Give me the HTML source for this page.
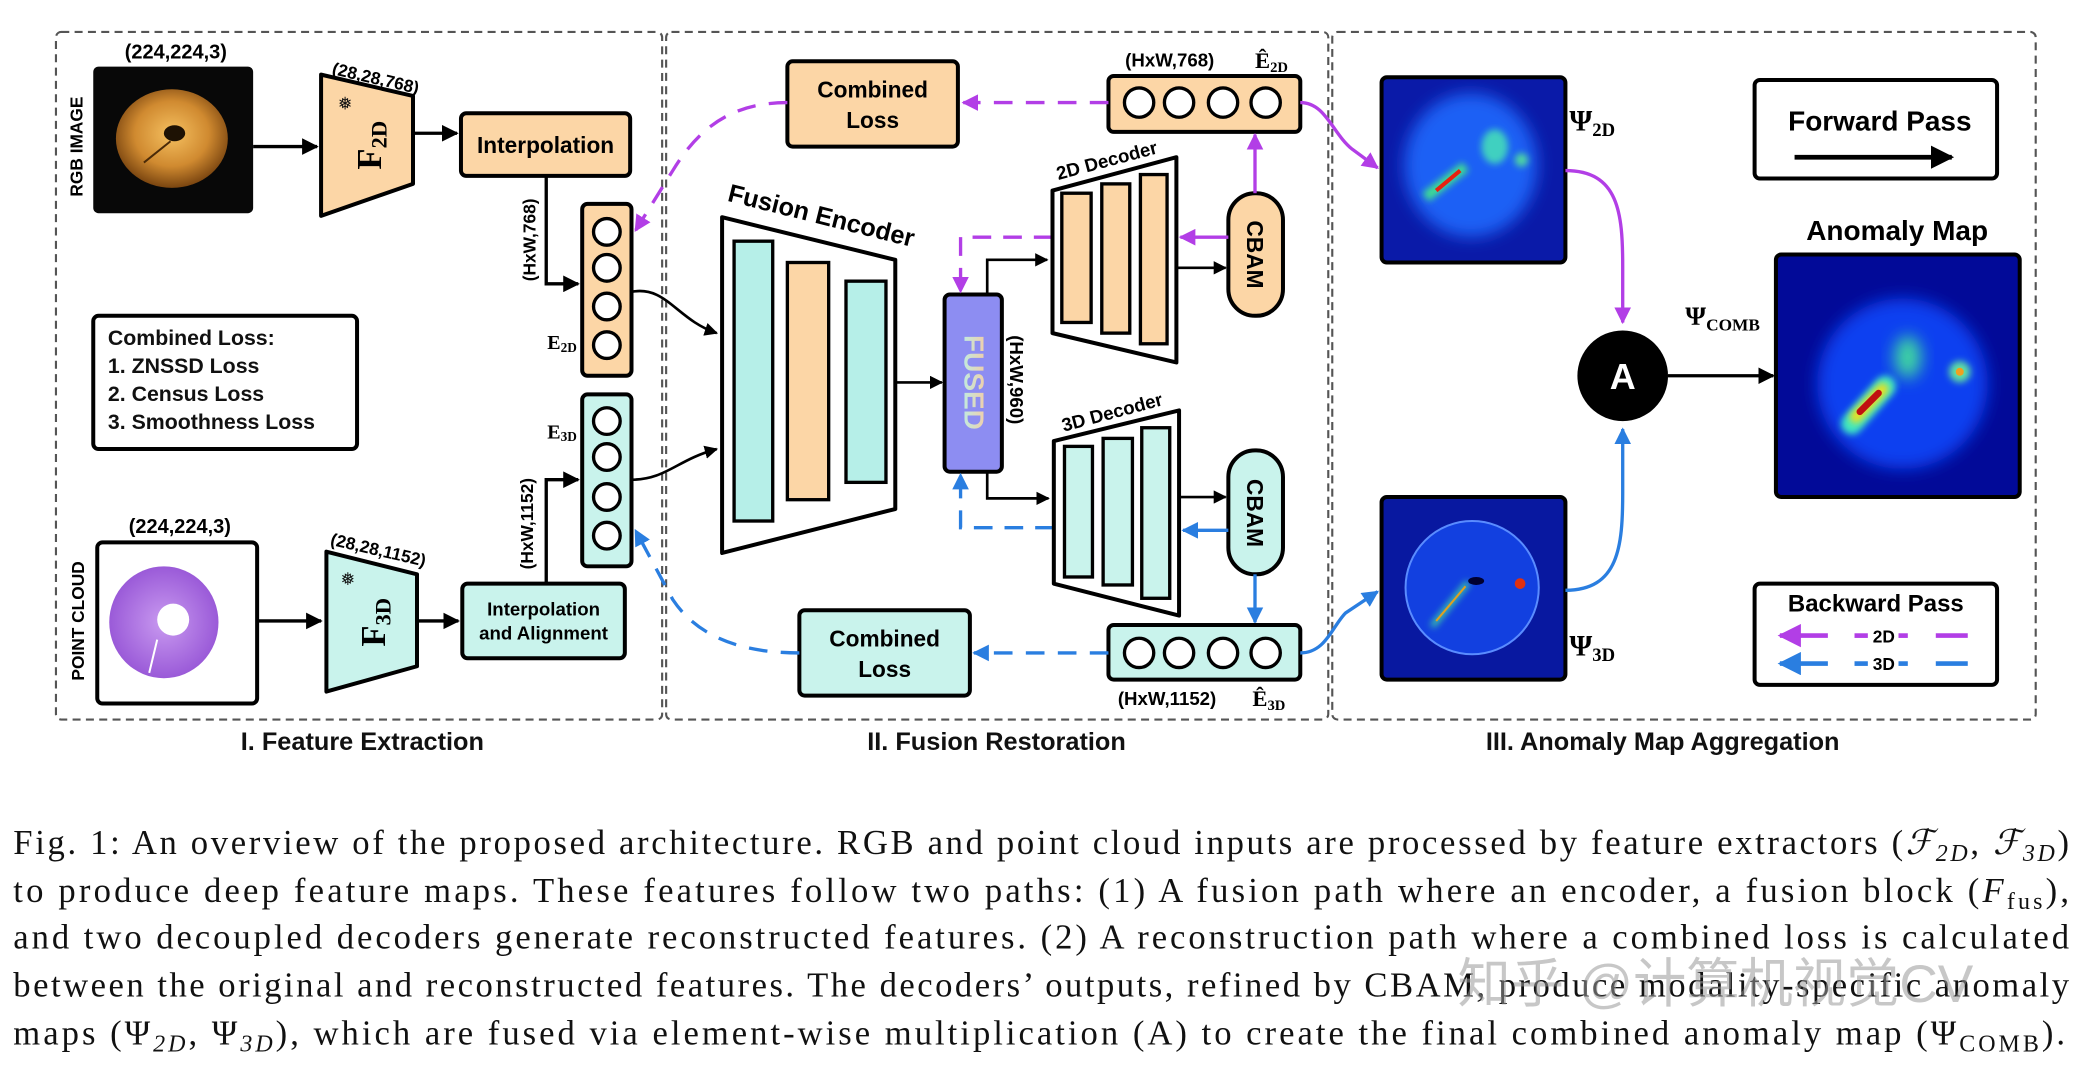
<!DOCTYPE html>
<html><head><meta charset="utf-8"><style>
html,body{margin:0;padding:0;background:#fff;}
svg{display:block;}
.b{font-family:"Liberation Sans",sans-serif;font-weight:bold;}
.s{font-family:"Liberation Serif",serif;font-weight:bold;}
.cap{font-family:"Liberation Serif",serif;font-size:26px;fill:#111;}
</style></head><body>
<svg width="2089" height="1066" viewBox="0 0 1568 800" preserveAspectRatio="none" xmlns="http://www.w3.org/2000/svg">
<defs>
<marker id="ak" viewBox="0 0 10 10" refX="9" refY="5" markerWidth="5" markerHeight="5" orient="auto"><path d="M0,0 L10,5 L0,10 z" fill="#000"/></marker>
<marker id="ap" viewBox="0 0 10 10" refX="9" refY="5" markerWidth="5" markerHeight="5" orient="auto"><path d="M0,0 L10,5 L0,10 z" fill="#b23ee6"/></marker>
<marker id="ab" viewBox="0 0 10 10" refX="9" refY="5" markerWidth="5" markerHeight="5" orient="auto"><path d="M0,0 L10,5 L0,10 z" fill="#2a7ee0"/></marker>
<radialGradient id="bag" cx="50%" cy="45%" r="55%"><stop offset="0" stop-color="#f5c060"/><stop offset="0.6" stop-color="#d08a30"/><stop offset="1" stop-color="#7a4510"/></radialGradient>
<radialGradient id="pc" cx="50%" cy="50%" r="50%"><stop offset="0" stop-color="#c99af0"/><stop offset="1" stop-color="#9a5ad8"/></radialGradient>
<linearGradient id="fz" x1="0" y1="0" x2="0" y2="1"><stop offset="0" stop-color="#f9c9a0"/><stop offset="1" stop-color="#b8f0ea"/></linearGradient>
<filter id="bl" x="-50%" y="-50%" width="200%" height="200%"><feGaussianBlur stdDeviation="6"/></filter>
<filter id="bl2" x="-50%" y="-50%" width="200%" height="200%"><feGaussianBlur stdDeviation="2.5"/></filter>
<clipPath id="c2d"><rect x="1037" y="58" width="138" height="139" rx="4"/></clipPath>
<clipPath id="c3d"><rect x="1037" y="373" width="138" height="137" rx="4"/></clipPath>
<clipPath id="cam"><rect x="1333" y="191" width="183" height="182" rx="4"/></clipPath>
</defs>

<g fill="none" stroke="#555" stroke-width="1.6" stroke-dasharray="6,4">
<rect x="42" y="24" width="455" height="516" rx="4"/>
<rect x="500" y="24" width="497" height="516" rx="4"/>
<rect x="1000" y="24" width="528" height="516" rx="4"/>
</g>
<g class="b" font-size="19" text-anchor="middle" fill="#111">
<text x="272" y="563">I. Feature Extraction</text>
<text x="748" y="563">II. Fusion Restoration</text>
<text x="1248" y="563">III. Anomaly Map Aggregation</text>
</g>

<!-- Panel I -->
<text class="b" x="132" y="44" font-size="15" text-anchor="middle">(224,224,3)</text>
<rect x="70" y="50" width="120" height="110" rx="4" fill="#080808"/>
<ellipse cx="129" cy="104" rx="42" ry="37" fill="url(#bag)"/>
<ellipse cx="131" cy="100" rx="8" ry="6" fill="#1e1204"/>
<path d="M108,122 L128,106" stroke="#4a2a08" stroke-width="1.5"/>
<text class="b" font-size="13" text-anchor="middle" transform="translate(62,110) rotate(-90)">RGB IMAGE</text>
<line x1="190" y1="110" x2="238" y2="110" stroke="#000" stroke-width="2.5" marker-end="url(#ak)"/>
<polygon points="241,56 310,72 310,138 241,162" fill="#fcd6a6" stroke="#000" stroke-width="3" stroke-linejoin="round"/>
<text x="259" y="82" font-size="13" text-anchor="middle" fill="#111">❅</text>
<text class="s" font-size="26" text-anchor="middle" transform="translate(286,109) rotate(-90)">F<tspan font-size="17" dy="4">2D</tspan></text>
<text class="b" font-size="13" text-anchor="middle" transform="translate(281,63) rotate(13)">(28,28,768)</text>
<line x1="310" y1="100" x2="343" y2="100" stroke="#000" stroke-width="2.5" marker-end="url(#ak)"/>
<rect x="346" y="85" width="127" height="47" rx="4" fill="#fcd6a6" stroke="#000" stroke-width="3"/>
<text class="b" x="409.5" y="115" font-size="17" text-anchor="middle">Interpolation</text>
<path d="M410,132 V213 H434" fill="none" stroke="#000" stroke-width="2.5" marker-end="url(#ak)"/>
<text class="b" font-size="13" text-anchor="middle" transform="translate(402,180) rotate(-90)">(HxW,768)</text>
<rect x="437" y="153" width="37" height="129" rx="4" fill="#fcd6a6" stroke="#000" stroke-width="3"/>
<g fill="#fff" stroke="#000" stroke-width="2.5">
<circle cx="455.5" cy="174" r="10"/><circle cx="455.5" cy="201" r="10"/><circle cx="455.5" cy="230" r="10"/><circle cx="455.5" cy="259" r="10"/>
</g>
<text class="s" x="433" y="262" font-size="15" text-anchor="end">E<tspan font-size="10" dy="2">2D</tspan></text>
<rect x="437" y="296" width="37" height="129" rx="4" fill="#c9f3ec" stroke="#000" stroke-width="3"/>
<g fill="#fff" stroke="#000" stroke-width="2.5">
<circle cx="455.5" cy="316" r="10"/><circle cx="455.5" cy="343" r="10"/><circle cx="455.5" cy="373" r="10"/><circle cx="455.5" cy="402" r="10"/>
</g>
<text class="s" x="433" y="329" font-size="15" text-anchor="end">E<tspan font-size="10" dy="2">3D</tspan></text>
<rect x="70" y="237" width="198" height="100" rx="4" fill="#fff" stroke="#000" stroke-width="3"/>
<g class="b" font-size="16" fill="#111">
<text x="81" y="259">Combined Loss:</text>
<text x="81" y="280">1. ZNSSD Loss</text>
<text x="81" y="301">2. Census Loss</text>
<text x="81" y="322">3. Smoothness Loss</text>
</g>
<text class="b" x="135" y="400" font-size="15" text-anchor="middle">(224,224,3)</text>
<rect x="73" y="407" width="120" height="121" rx="4" fill="#fff" stroke="#000" stroke-width="3"/>
<ellipse cx="123" cy="467" rx="41" ry="42" fill="url(#pc)"/>
<circle cx="130" cy="465" r="12" fill="#fff"/>
<path d="M118,480 L112,505" stroke="#fff" stroke-width="1.5"/>
<text class="b" font-size="13" text-anchor="middle" transform="translate(63,466) rotate(-90)">POINT CLOUD</text>
<line x1="193" y1="466" x2="241" y2="466" stroke="#000" stroke-width="2.5" marker-end="url(#ak)"/>
<polygon points="245,414 313,431 313,500 245,519" fill="#c9f3ec" stroke="#000" stroke-width="3" stroke-linejoin="round"/>
<text x="261" y="439" font-size="13" text-anchor="middle" fill="#111">❅</text>
<text class="s" font-size="26" text-anchor="middle" transform="translate(289,467) rotate(-90)">F<tspan font-size="17" dy="4">3D</tspan></text>
<text class="b" font-size="13" text-anchor="middle" transform="translate(283,417) rotate(13)">(28,28,1152)</text>
<line x1="313" y1="466" x2="344" y2="466" stroke="#000" stroke-width="2.5" marker-end="url(#ak)"/>
<rect x="347" y="438" width="122" height="56" rx="4" fill="#c9f3ec" stroke="#000" stroke-width="3"/>
<text class="b" x="408" y="462" font-size="14" text-anchor="middle">Interpolation</text>
<text class="b" x="408" y="480" font-size="14" text-anchor="middle">and Alignment</text>
<path d="M410,438 V360 H434" fill="none" stroke="#000" stroke-width="2.5" marker-end="url(#ak)"/>
<text class="b" font-size="13" text-anchor="middle" transform="translate(400,393) rotate(-90)">(HxW,1152)</text>
<path d="M474,219 C500,214 508,240 538,250" fill="none" stroke="#000" stroke-width="2" marker-end="url(#ak)"/>
<path d="M474,360 C500,360 508,345 538,337" fill="none" stroke="#000" stroke-width="2" marker-end="url(#ak)"/>

<!-- Panel II -->
<rect x="591" y="46" width="128" height="64" rx="4" fill="#fcd6a6" stroke="#000" stroke-width="3"/>
<text class="b" x="655" y="73" font-size="17" text-anchor="middle">Combined</text>
<text class="b" x="655" y="96" font-size="17" text-anchor="middle">Loss</text>
<rect x="832" y="57" width="144" height="42" rx="4" fill="#fcd6a6" stroke="#000" stroke-width="3"/>
<g fill="#fff" stroke="#000" stroke-width="2.5">
<circle cx="855" cy="77" r="11"/><circle cx="885" cy="77" r="11"/><circle cx="918" cy="77" r="11"/><circle cx="950" cy="77" r="11"/>
</g>
<text class="b" x="878" y="50" font-size="14" text-anchor="middle">(HxW,768)</text>
<text class="s" x="942" y="51" font-size="17">Ê<tspan font-size="11" dy="3">2D</tspan></text>
<line x1="832" y1="77" x2="723" y2="77" stroke="#b23ee6" stroke-width="2.5" stroke-dasharray="14,10" marker-end="url(#ap)"/>
<path d="M591,77 C550,77 525,95 505,128 L477,173" fill="none" stroke="#b23ee6" stroke-width="2.5" stroke-dasharray="14,10" marker-end="url(#ap)"/>
<path d="M976,77 C995,77 1000,100 1015,112 L1034,126" fill="none" stroke="#b23ee6" stroke-width="2.5" marker-end="url(#ap)"/>

<polygon points="542,163 672,195 672,382 542,415" fill="#fff" stroke="#000" stroke-width="3" stroke-linejoin="round"/>
<rect x="551" y="181" width="29" height="210" fill="#b6efe8" stroke="#000" stroke-width="2.5"/>
<rect x="591" y="197" width="31" height="178" fill="#fcd6a6" stroke="#000" stroke-width="2.5"/>
<rect x="635" y="211" width="30" height="151" fill="#b6efe8" stroke="#000" stroke-width="2.5"/>
<text class="b" font-size="19" text-anchor="middle" transform="translate(615,168) rotate(14)">Fusion Encoder</text>
<line x1="672" y1="287" x2="707" y2="287" stroke="#000" stroke-width="2" marker-end="url(#ak)"/>
<rect x="709" y="221" width="43" height="133" rx="4" fill="#8d8df2" stroke="#000" stroke-width="3"/>
<text class="b" font-size="21" text-anchor="middle" fill="url(#fz)" transform="translate(724,287) rotate(90)">FUSED</text>
<text class="b" font-size="14" text-anchor="middle" transform="translate(758,285) rotate(90)">(HxW,960)</text>
<path d="M741,221 V195 H786" fill="none" stroke="#000" stroke-width="2" marker-end="url(#ak)"/>
<path d="M790,178 H721 V219" fill="none" stroke="#b23ee6" stroke-width="2.5" stroke-dasharray="14,9" marker-end="url(#ap)"/>
<path d="M741,354 V374 H787" fill="none" stroke="#000" stroke-width="2" marker-end="url(#ak)"/>
<path d="M791,396 H721 V356" fill="none" stroke="#2a7ee0" stroke-width="2.5" stroke-dasharray="14,9" marker-end="url(#ab)"/>

<polygon points="790,143 883,118 883,272 790,250" fill="#fff" stroke="#000" stroke-width="3" stroke-linejoin="round"/>
<rect x="797" y="145" width="22" height="97" fill="#fcd6a6" stroke="#000" stroke-width="2.5"/>
<rect x="827" y="138" width="21" height="112" fill="#fcd6a6" stroke="#000" stroke-width="2.5"/>
<rect x="856" y="131" width="20" height="127" fill="#fcd6a6" stroke="#000" stroke-width="2.5"/>
<text class="b" font-size="14" text-anchor="middle" transform="translate(832,125) rotate(-15)">2D Decoder</text>
<rect x="922" y="145" width="41" height="92" rx="20" fill="#fcd6a6" stroke="#000" stroke-width="3"/>
<text class="b" font-size="17" text-anchor="middle" transform="translate(936,191) rotate(90)">CBAM</text>
<line x1="883" y1="201" x2="920" y2="201" stroke="#000" stroke-width="2" marker-end="url(#ak)"/>
<line x1="922" y1="178" x2="886" y2="178" stroke="#b23ee6" stroke-width="2.5" marker-end="url(#ap)"/>
<line x1="942" y1="145" x2="942" y2="101" stroke="#b23ee6" stroke-width="2.5" marker-end="url(#ap)"/>

<polygon points="791,331 885,308 885,462 791,438" fill="#fff" stroke="#000" stroke-width="3" stroke-linejoin="round"/>
<rect x="799" y="335" width="21" height="98" fill="#c9f3ec" stroke="#000" stroke-width="2.5"/>
<rect x="828" y="329" width="22" height="110" fill="#c9f3ec" stroke="#000" stroke-width="2.5"/>
<rect x="857" y="321" width="21" height="128" fill="#c9f3ec" stroke="#000" stroke-width="2.5"/>
<text class="b" font-size="14" text-anchor="middle" transform="translate(836,314) rotate(-15)">3D Decoder</text>
<rect x="922" y="338" width="41" height="93" rx="20" fill="#c9f3ec" stroke="#000" stroke-width="3"/>
<text class="b" font-size="17" text-anchor="middle" transform="translate(936,385) rotate(90)">CBAM</text>
<line x1="885" y1="373" x2="920" y2="373" stroke="#000" stroke-width="2" marker-end="url(#ak)"/>
<line x1="922" y1="398" x2="888" y2="398" stroke="#2a7ee0" stroke-width="2.5" marker-end="url(#ab)"/>
<line x1="942" y1="431" x2="942" y2="467" stroke="#2a7ee0" stroke-width="2.5" marker-end="url(#ab)"/>

<rect x="832" y="469" width="144" height="41" rx="4" fill="#c9f3ec" stroke="#000" stroke-width="3"/>
<g fill="#fff" stroke="#000" stroke-width="2.5">
<circle cx="855" cy="490" r="11"/><circle cx="885" cy="490" r="11"/><circle cx="918" cy="490" r="11"/><circle cx="950" cy="490" r="11"/>
</g>
<text class="b" x="876" y="529" font-size="14" text-anchor="middle">(HxW,1152)</text>
<text class="s" x="940" y="530" font-size="17">Ê<tspan font-size="11" dy="3">3D</tspan></text>
<line x1="832" y1="490" x2="731" y2="490" stroke="#2a7ee0" stroke-width="2.5" stroke-dasharray="14,10" marker-end="url(#ab)"/>
<rect x="600" y="458" width="128" height="64" rx="4" fill="#c9f3ec" stroke="#000" stroke-width="3"/>
<text class="b" x="664" y="485" font-size="17" text-anchor="middle">Combined</text>
<text class="b" x="664" y="508" font-size="17" text-anchor="middle">Loss</text>
<path d="M600,490 C560,490 525,480 505,450 L477,398" fill="none" stroke="#2a7ee0" stroke-width="2.5" stroke-dasharray="14,10" marker-end="url(#ab)"/>
<path d="M976,490 C995,490 1000,470 1010,460 L1034,444" fill="none" stroke="#2a7ee0" stroke-width="2.5" marker-end="url(#ab)"/>

<!-- Panel III -->
<g clip-path="url(#c2d)">
<rect x="1037" y="58" width="138" height="139" fill="#0a1aa8"/>
<ellipse cx="1104" cy="124" rx="50" ry="54" fill="#1a60f5" filter="url(#bl)"/>
<ellipse cx="1122" cy="110" rx="10" ry="13" fill="#3fd0c0" filter="url(#bl2)"/>
<circle cx="1142" cy="120" r="5" fill="#4fd8a0" filter="url(#bl2)"/>
<path d="M1070,148 L1100,125" stroke="#40e090" stroke-width="8" filter="url(#bl2)"/>
<path d="M1078,143 L1096,128" stroke="#e82010" stroke-width="3"/>
</g>
<rect x="1037" y="58" width="138" height="139" rx="4" fill="none" stroke="#000" stroke-width="3"/>
<text class="s" x="1178" y="98" font-size="22">Ψ<tspan font-size="14" dy="4">2D</tspan></text>
<g clip-path="url(#c3d)">
<rect x="1037" y="373" width="138" height="137" fill="#0818a0"/>
<circle cx="1105" cy="441" r="50" fill="#1240e0" stroke="#5a8cff" stroke-width="1.5"/>
<path d="M1075,470 L1102,437" stroke="#40d8a0" stroke-width="4" filter="url(#bl2)"/>
<path d="M1078,466 L1100,440" stroke="#e0a020" stroke-width="1.5"/>
<ellipse cx="1108" cy="436" rx="6" ry="3" fill="#000030"/>
<circle cx="1141" cy="438" r="4" fill="#e03010"/>
</g>
<rect x="1037" y="373" width="138" height="137" rx="4" fill="none" stroke="#000" stroke-width="3"/>
<text class="s" x="1178" y="492" font-size="22">Ψ<tspan font-size="14" dy="4">3D</tspan></text>
<path d="M1175,128 C1215,128 1218,160 1218,200 V242" fill="none" stroke="#b23ee6" stroke-width="2.5" marker-end="url(#ap)"/>
<path d="M1175,443 C1215,443 1218,410 1218,370 V322" fill="none" stroke="#2a7ee0" stroke-width="2.5" marker-end="url(#ab)"/>
<circle cx="1218" cy="282" r="34" fill="#000"/>
<text class="b" x="1218" y="292" font-size="27" fill="#fff" text-anchor="middle">A</text>
<line x1="1252" y1="282" x2="1331" y2="282" stroke="#000" stroke-width="2.5" marker-end="url(#ak)"/>
<text class="s" x="1265" y="244" font-size="20">Ψ<tspan font-size="13" dy="4">COMB</tspan></text>
<text class="b" x="1424" y="180" font-size="21" text-anchor="middle">Anomaly Map</text>
<g clip-path="url(#cam)">
<rect x="1333" y="191" width="183" height="182" fill="#020a98"/>
<circle cx="1428" cy="288" r="64" fill="#1040f0" filter="url(#bl)"/>
<ellipse cx="1432" cy="268" rx="10" ry="16" fill="#40d8a0" filter="url(#bl)"/>
<path d="M1390,318 L1415,290" stroke="#40e8c0" stroke-width="16" stroke-linecap="round" filter="url(#bl2)"/>
<path d="M1393,313 L1413,292" stroke="#e8e020" stroke-width="9" stroke-linecap="round" filter="url(#bl2)"/>
<path d="M1396,309 L1410,295" stroke="#c01010" stroke-width="5" stroke-linecap="round"/>
<circle cx="1471" cy="279" r="8" fill="#60e0a0" filter="url(#bl2)"/>
<circle cx="1471" cy="279" r="3" fill="#f0a020"/>
</g>
<rect x="1333" y="191" width="183" height="182" rx="4" fill="none" stroke="#000" stroke-width="3"/>
<rect x="1317" y="60" width="182" height="74" rx="4" fill="#fff" stroke="#000" stroke-width="3"/>
<text class="b" x="1411" y="98" font-size="21" text-anchor="middle">Forward Pass</text>
<line x1="1347" y1="118" x2="1465" y2="118" stroke="#000" stroke-width="3.5" marker-end="url(#ak)"/>
<rect x="1317" y="438" width="182" height="76" rx="4" fill="#fff" stroke="#000" stroke-width="3"/>
<text class="b" x="1408" y="459" font-size="18" text-anchor="middle">Backward Pass</text>
<line x1="1372" y1="477" x2="1336" y2="477" stroke="#b23ee6" stroke-width="3.5" marker-end="url(#ap)"/>
<line x1="1392" y1="477" x2="1402" y2="477" stroke="#b23ee6" stroke-width="3.5"/>
<text class="b" x="1414" y="482" font-size="13" text-anchor="middle">2D</text>
<line x1="1425" y1="477" x2="1432" y2="477" stroke="#b23ee6" stroke-width="3.5"/>
<line x1="1453" y1="477" x2="1477" y2="477" stroke="#b23ee6" stroke-width="3.5"/>
<line x1="1372" y1="498" x2="1336" y2="498" stroke="#2a7ee0" stroke-width="3.5" marker-end="url(#ab)"/>
<line x1="1392" y1="498" x2="1402" y2="498" stroke="#2a7ee0" stroke-width="3.5"/>
<text class="b" x="1414" y="503" font-size="13" text-anchor="middle">3D</text>
<line x1="1425" y1="498" x2="1432" y2="498" stroke="#2a7ee0" stroke-width="3.5"/>
<line x1="1453" y1="498" x2="1477" y2="498" stroke="#2a7ee0" stroke-width="3.5"/>

<!-- caption -->
<text class="cap" x="10" y="641" textLength="1543" lengthAdjust="spacing">Fig. 1: An overview of the proposed architecture. RGB and point cloud inputs are processed by feature extractors (<tspan font-style="italic">ℱ</tspan><tspan font-size="18" font-style="italic" dy="5">2D</tspan><tspan dy="-5">, </tspan><tspan font-style="italic">ℱ</tspan><tspan font-size="18" font-style="italic" dy="5">3D</tspan><tspan dy="-5">)</tspan></text>
<text class="cap" x="10" y="677" textLength="1543" lengthAdjust="spacing">to produce deep feature maps. These features follow two paths: (1) A fusion path where an encoder, a fusion block (<tspan font-style="italic">F</tspan><tspan font-size="18" dy="5">fus</tspan><tspan dy="-5">),</tspan></text>
<text class="cap" x="10" y="712" textLength="1543" lengthAdjust="spacing">and two decoupled decoders generate reconstructed features. (2) A reconstruction path where a combined loss is calculated</text>
<text class="cap" x="10" y="748" textLength="1543" lengthAdjust="spacing">between the original and reconstructed features. The decoders’ outputs, refined by CBAM, produce modality-specific anomaly</text>
<text class="cap" x="10" y="784" textLength="1540" lengthAdjust="spacing">maps (Ψ<tspan font-size="18" font-style="italic" dy="5">2D</tspan><tspan dy="-5">, Ψ</tspan><tspan font-size="18" font-style="italic" dy="5">3D</tspan><tspan dy="-5">), which are fused via element-wise multiplication (A) to create the final combined anomaly map (Ψ</tspan><tspan font-size="18" dy="5">COMB</tspan><tspan dy="-5">).</tspan></text>
<text x="1094" y="752" font-family="'Liberation Sans','Noto Sans CJK SC',sans-serif" font-size="40" fill="#999" fill-opacity="0.55">知乎 @计算机视觉CV</text>
</svg>
</body></html>
